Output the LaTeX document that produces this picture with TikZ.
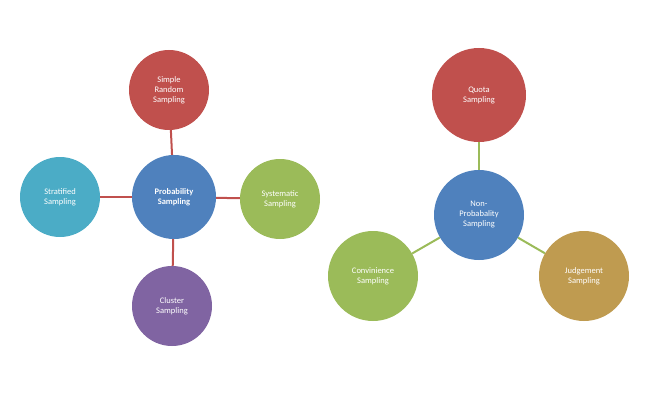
\documentclass[tikz,border=0pt]{standalone}
\usepackage{fontspec}
\setmainfont{Carlito}
\begin{document}
\begin{tikzpicture}[x=1pt,y=-1pt,
 c/.style={circle,minimum size=#1,inner sep=0pt,text=white,font=\fontsize{8.5}{10}\selectfont,align=center},
 lr/.style={draw=red1,line width=2pt},
 lg/.style={draw=green1,line width=2pt}]
\definecolor{red1}{HTML}{C0504D}
\definecolor{blue1}{HTML}{4F81BD}
\definecolor{teal1}{HTML}{4BACC6}
\definecolor{green1}{HTML}{9BBB59}
\definecolor{purple1}{HTML}{8064A2}
\definecolor{gold1}{HTML}{BF9B50}
\useasboundingbox (0,0) rectangle (654,404);
\node[c=80pt,fill=red1] (sr) at (169,90) {Simple\\Random\\Sampling};
\node[c=80pt,fill=teal1] (st) at (60,197) {Stratified\\Sampling};
\node[c=80pt,fill=green1] (sy) at (280,199) {Systematic\\Sampling};
\node[c=80pt,fill=purple1] (cl) at (172,306) {Cluster\\Sampling};
\node[c=84pt,fill=blue1,font=\fontsize{8.5}{10}\selectfont\bfseries] (p) at (174,197) {Probability\\Sampling};
\draw[lr] (p) -- (sr); \draw[lr] (p) -- (st); \draw[lr] (p) -- (sy); \draw[lr] (p) -- (cl);
\node[c=94pt,fill=red1] (q) at (479,95) {Quota\\Sampling};
\node[c=90pt,fill=green1] (cv) at (373,276) {Convinience\\Sampling};
\node[c=90pt,fill=gold1] (j) at (584,276) {Judgement\\Sampling};
\node[c=90pt,fill=blue1] (np) at (479,215) {Non-\\Probabality\\Sampling};
\draw[lg] (np) -- (q); \draw[lg] (np) -- (cv); \draw[lg] (np) -- (j);
\end{tikzpicture}
\end{document}
